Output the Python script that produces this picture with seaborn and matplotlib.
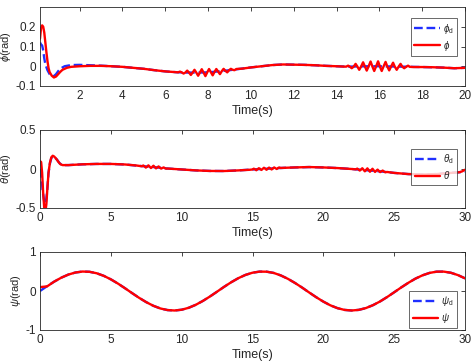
import numpy as np
import pandas as pd
import matplotlib
matplotlib.use("Agg")
import matplotlib.pyplot as plt
import seaborn as sns

# ---------------- data ----------------
phi_d_t = [0.15, 0.2, 0.25, 0.3, 0.35, 0.4, 0.5, 0.6, 0.7, 0.8, 0.9, 1.0, 1.1, 1.3, 1.6, 2.0, 2.5,
           3.0, 3.5, 4.0, 4.5, 5.0, 5.5, 6.0, 6.5, 7.0, 7.5, 8.0, 8.5, 9.0, 9.5, 10.0, 10.5, 11.0,
           11.5, 12.0, 12.5, 13.0, 13.5, 14.0, 14.5, 15.0, 15.5, 16.0, 16.5, 17.0, 17.5, 18.0,
           18.5, 19.0, 19.5, 20.0]
phi_d = [0.12, 0.11, 0.105, 0.08, 0.04, 0.01, -0.02, -0.04, -0.05, -0.05, -0.04, -0.025, -0.012,
         0.0, 0.006, 0.007, 0.005, 0.003, 0.0, -0.003, -0.008, -0.013, -0.02, -0.026, -0.03,
         -0.032, -0.032, -0.031, -0.026, -0.02, -0.013, -0.006, 0.0, 0.006, 0.009, 0.008, 0.007,
         0.005, 0.002, 0.0, -0.002, -0.001, 0.0, 0.0, -0.001, -0.002, -0.003, -0.004, -0.005,
         -0.007, -0.01, -0.008]

phi_t = [0.15, 0.2, 0.25, 0.3, 0.35, 0.4, 0.45, 0.5, 0.55, 0.6, 0.7, 0.8, 0.9, 1.0, 1.1, 1.2, 1.4,
         1.6, 2.0, 2.5, 3.0, 3.5, 4.0, 4.5, 5.0, 5.5, 6.0, 6.5,
         6.60, 6.685, 6.77, 6.855, 6.94, 7.025, 7.11, 7.195, 7.28, 7.365, 7.45, 7.535, 7.62,
         7.705, 7.79, 7.875, 7.96, 8.045, 8.13, 8.215, 8.30, 8.385, 8.47, 8.555, 8.64, 8.725,
         8.81, 8.895, 8.98, 9.065, 9.15, 9.235, 9.32,
         9.6, 10.0, 10.5, 11.0, 11.5, 12.0, 12.5, 13.0, 13.5, 14.0, 14.4,
         14.45, 14.54, 14.62, 14.71, 14.80, 14.89, 14.97, 15.06, 15.15, 15.24, 15.32, 15.41,
         15.50, 15.59, 15.67, 15.76, 15.85, 15.94, 16.02, 16.11, 16.20, 16.29, 16.37, 16.46,
         16.55, 16.64, 16.72, 16.81, 16.90, 16.99, 17.07, 17.16, 17.25, 17.34, 17.42, 17.60,
         18.0, 18.5, 19.0, 19.5, 20.0]
phi = [0.14, 0.195, 0.207, 0.2, 0.17, 0.12, 0.07, 0.025, -0.01, -0.03, -0.048, -0.057, -0.052,
       -0.04, -0.028, -0.018, -0.008, -0.003, 0.0, 0.002, 0.002, 0.0, -0.003, -0.008, -0.013,
       -0.02, -0.026, -0.03,
       -0.031, -0.027, -0.031, -0.037, -0.032, -0.022, -0.032, -0.044, -0.032, -0.018, -0.032,
       -0.048, -0.032, -0.015, -0.032, -0.05, -0.031, -0.014, -0.03, -0.046, -0.029, -0.014,
       -0.027, -0.04, -0.025, -0.013, -0.023, -0.031, -0.02, -0.013, -0.018, -0.02, -0.014,
       -0.012, -0.006, 0.0, 0.006, 0.009, 0.008, 0.007, 0.005, 0.002, 0.0, -0.002,
       -0.002, 0.003, -0.002, -0.01, -0.002, 0.012, -0.001, -0.018, -0.001, 0.02, 0.0, -0.022,
       0.0, 0.024, 0.0, -0.024, 0.0, 0.025, 0.0, -0.024, 0.0, 0.022, -0.001, -0.021,
       -0.001, 0.018, -0.002, -0.018, -0.002, 0.012, -0.002, -0.01, -0.003, 0.003, -0.003, -0.004,
       -0.004, -0.005, -0.007, -0.01, -0.008]

theta_d_t = [0.0, 0.1, 0.2, 0.3, 0.4, 0.5, 0.6, 0.7, 0.8, 0.9, 1.0, 1.2, 1.4, 1.6, 2.0, 3.0, 4.0,
             5.0, 6.0, 7.0, 8.0, 9.0, 10.0, 11.0, 12.0, 13.0, 14.0, 15.0, 16.0, 17.0, 18.0, 19.0,
             20.0, 21.0, 22.0, 23.0, 24.0, 25.0, 26.0, 27.0, 28.0, 29.0, 30.0]
theta_d = [0.0, -0.1, -0.3, -0.42, -0.45, -0.3, -0.05, 0.07, 0.14, 0.16, 0.155, 0.12, 0.07, 0.05,
           0.05, 0.06, 0.065, 0.065, 0.058, 0.04, 0.025, 0.006, -0.006, -0.018, -0.025, -0.026,
           -0.018, -0.006, 0.003, 0.013, 0.02, 0.025, 0.02, 0.012, 0.0, -0.015, -0.03, -0.05,
           -0.065, -0.07, -0.065, -0.05, -0.035]

theta_t = [0.0, 0.08, 0.15, 0.22, 0.3, 0.38, 0.45, 0.52, 0.6, 0.7, 0.8, 0.9, 1.0, 1.15, 1.3, 1.45,
           1.6, 2.0, 3.0, 4.0, 5.0, 6.0, 6.8,
           7.2, 7.29, 7.38, 7.47, 7.56, 7.65, 7.74, 7.83, 7.92, 8.01, 8.10, 8.19, 8.28, 8.37,
           8.46, 8.55, 8.64, 8.73, 8.82, 8.91, 9.0,
           9.5, 10.0, 11.0, 12.0, 13.0, 14.0, 14.8,
           15.0, 15.09, 15.18, 15.27, 15.36, 15.45, 15.54, 15.63, 15.72, 15.81, 15.90, 15.99,
           16.08, 16.17, 16.26, 16.35, 16.44, 16.53, 16.62, 16.71, 16.80, 16.89, 16.98,
           17.2, 18.0, 19.0, 20.0, 21.0, 22.0,
           22.3, 22.39, 22.48, 22.57, 22.66, 22.75, 22.84, 22.93, 23.02, 23.11, 23.20, 23.29,
           23.38, 23.47, 23.56, 23.65, 23.74, 23.83, 23.92, 24.01, 24.10, 24.19, 24.28, 24.37,
           24.5, 25.0, 26.0, 27.0, 28.0, 29.0, 29.6, 29.8, 30.0]
theta = [0.1, 0.09, -0.05, -0.3, -0.5, -0.55, -0.45, -0.25, -0.05, 0.08, 0.15, 0.17, 0.16, 0.13,
         0.09, 0.06, 0.05, 0.05, 0.06, 0.065, 0.065, 0.058, 0.045,
         0.035, 0.045, 0.033, 0.018, 0.03, 0.047, 0.03, 0.012, 0.027, 0.042, 0.024, 0.008, 0.02,
         0.033, 0.017, 0.005, 0.013, 0.02, 0.01, 0.004, 0.006,
         0.0, -0.006, -0.018, -0.025, -0.026, -0.018, -0.01,
         -0.006, 0.004, -0.004, -0.016, -0.002, 0.01, 0.0, -0.012, 0.002, 0.016, 0.004, -0.01,
         0.005, 0.018, 0.006, -0.006, 0.008, 0.02, 0.01, 0.0, 0.012, 0.02, 0.013,
         0.015, 0.02, 0.025, 0.02, 0.012, 0.0,
         -0.005, 0.005, -0.006, -0.02, -0.008, 0.01, -0.01, -0.03, -0.012, 0.008, -0.014, -0.035,
         -0.016, 0.003, -0.018, -0.038, -0.022, -0.008, -0.025, -0.04, -0.03, -0.02, -0.033, -0.042,
         -0.038, -0.05, -0.065, -0.07, -0.065, -0.05, -0.042, -0.03, -0.01]

psi_t = [0.0, 0.5, 1.0, 1.5, 2.0, 2.5, 3.0, 3.5, 4.0, 4.5, 5.0, 5.5, 6.0, 6.5, 7.0, 7.5, 8.0, 8.5,
         9.0, 9.5, 10.0, 10.5, 11.0, 11.5, 12.0, 12.5, 13.0, 13.5, 14.0, 14.5, 15.0, 15.5, 16.0,
         16.5, 17.0, 17.5, 18.0, 18.5, 19.0, 19.5, 20.0, 20.5, 21.0, 21.5, 22.0, 22.5, 23.0,
         23.5, 24.0, 24.5, 25.0, 25.5, 26.0, 26.5, 27.0, 27.5, 28.0, 28.5, 29.0, 29.5, 30.0]
psi_d = [0.0, 0.124, 0.240, 0.341, 0.421, 0.474, 0.499, 0.492, 0.455, 0.389,
         0.299, 0.191, 0.071, -0.054, -0.176, -0.286, -0.379, -0.448, -0.489, -0.500,
         -0.480, -0.430, -0.353, -0.254, -0.140, -0.017, 0.108, 0.225, 0.329, 0.412,
         0.469, 0.497, 0.495, 0.463, 0.399, 0.312, 0.206, 0.088, -0.038, -0.160,
         -0.272, -0.368, -0.440, -0.485, -0.500, -0.484, -0.438, -0.364, -0.269, -0.156,
         -0.033, 0.092, 0.210, 0.317, 0.402, 0.464, 0.496, 0.497, 0.468, 0.408, 0.325]
psi = [0.10, 0.118, 0.240, 0.341, 0.421, 0.474, 0.499, 0.492, 0.455, 0.389,
       0.299, 0.191, 0.071, -0.054, -0.176, -0.286, -0.379, -0.448, -0.489, -0.500,
       -0.480, -0.430, -0.353, -0.254, -0.140, -0.017, 0.108, 0.225, 0.329, 0.412,
       0.469, 0.497, 0.495, 0.463, 0.399, 0.312, 0.206, 0.088, -0.038, -0.160,
       -0.272, -0.368, -0.440, -0.485, -0.500, -0.484, -0.438, -0.364, -0.269, -0.156,
       -0.033, 0.092, 0.210, 0.317, 0.402, 0.464, 0.496, 0.497, 0.468, 0.408, 0.325]

x_label = "Time(s)"
y_labels = [r"$\phi$(rad)", r"$\theta$(rad)", r"$\psi$(rad)"]
legend_labels = [(r"$\phi_{\rm d}$", r"$\phi$"), (r"$\theta_{\rm d}$", r"$\theta$"),
                 (r"$\psi_{\rm d}$", r"$\psi$")]
x_ticks = [[2, 4, 6, 8, 10, 12, 14, 16, 18, 20], [0, 5, 10, 15, 20, 25, 30], [0, 5, 10, 15, 20, 25, 30]]
y_ticks = [[-0.1, 0, 0.1, 0.2], [-0.5, 0, 0.5], [-1, 0, 1]]
y_tick_labels = [["-0.1", "0", "0.1", "0.2"], ["-0.5", "0", "0.5"], ["-1", "0", "1"]]
x_lims = [(0.15, 20), (0, 30), (0, 30)]
y_lims = [(-0.1, 0.3), (-0.5, 0.5), (-1, 1)]

# ---------------- plotting ----------------
sns.set_style("white")
plt.rcParams["font.family"] = ["Liberation Sans", "DejaVu Sans"]
plt.rcParams["mathtext.fontset"] = "custom"
plt.rcParams["mathtext.rm"] = "Liberation Sans"
plt.rcParams["mathtext.it"] = "Liberation Sans:italic"

fig = plt.figure(figsize=(4.74, 3.64), dpi=100)
W, H = 474, 364
boxes = [(40, 7, 465, 86), (40, 130, 465, 208), (40, 252, 465, 330)]
legend_locs = [(0.985, 0.88), (0.985, 0.78), (0.985, 0.53)]

series = [(phi_d_t, phi_d, phi_t, phi), (theta_d_t, theta_d, theta_t, theta),
          (psi_t, psi_d, psi_t, psi)]
txt = "#262626"
for i, (l, t, r, b) in enumerate(boxes):
    ax = fig.add_axes([l / W, 1 - b / H, (r - l) / W, (b - t) / H])
    td, yd, tr, yr = series[i]
    sns.lineplot(x=td, y=yd, ax=ax, color="#1f2fff", linewidth=1.7, linestyle="--",
                 estimator=None, sort=False, label=legend_labels[i][0])
    sns.lineplot(x=tr, y=yr, ax=ax, color="#ff0000", linewidth=1.7,
                 estimator=None, sort=False, label=legend_labels[i][1])
    ax.set_xlim(*x_lims[i])
    ax.set_ylim(*y_lims[i])
    ax.set_xticks(x_ticks[i])
    ax.set_xticklabels([str(v) for v in x_ticks[i]])
    ax.set_yticks(y_ticks[i])
    ax.set_yticklabels(y_tick_labels[i])
    ax.tick_params(direction="in", top=True, right=True, length=3, width=0.6,
                   labelsize=8.5, colors=txt, pad=3)
    for s in ax.spines.values():
        s.set_color(txt)
        s.set_linewidth(0.6)
    ax.set_xlabel(x_label, fontsize=9, color=txt, labelpad=2)
    ax.set_ylabel(y_labels[i], fontsize=8, color=txt, labelpad=2)
    leg = ax.legend(loc="upper right", bbox_to_anchor=legend_locs[i], fontsize=7,
                    frameon=True, fancybox=False, handlelength=2.6, handletextpad=0.3,
                    borderpad=0.35, labelspacing=0.3, borderaxespad=0.2)
    leg.get_frame().set_edgecolor(txt)
    leg.get_frame().set_linewidth(0.6)

fig.savefig("out.png", dpi=100)
